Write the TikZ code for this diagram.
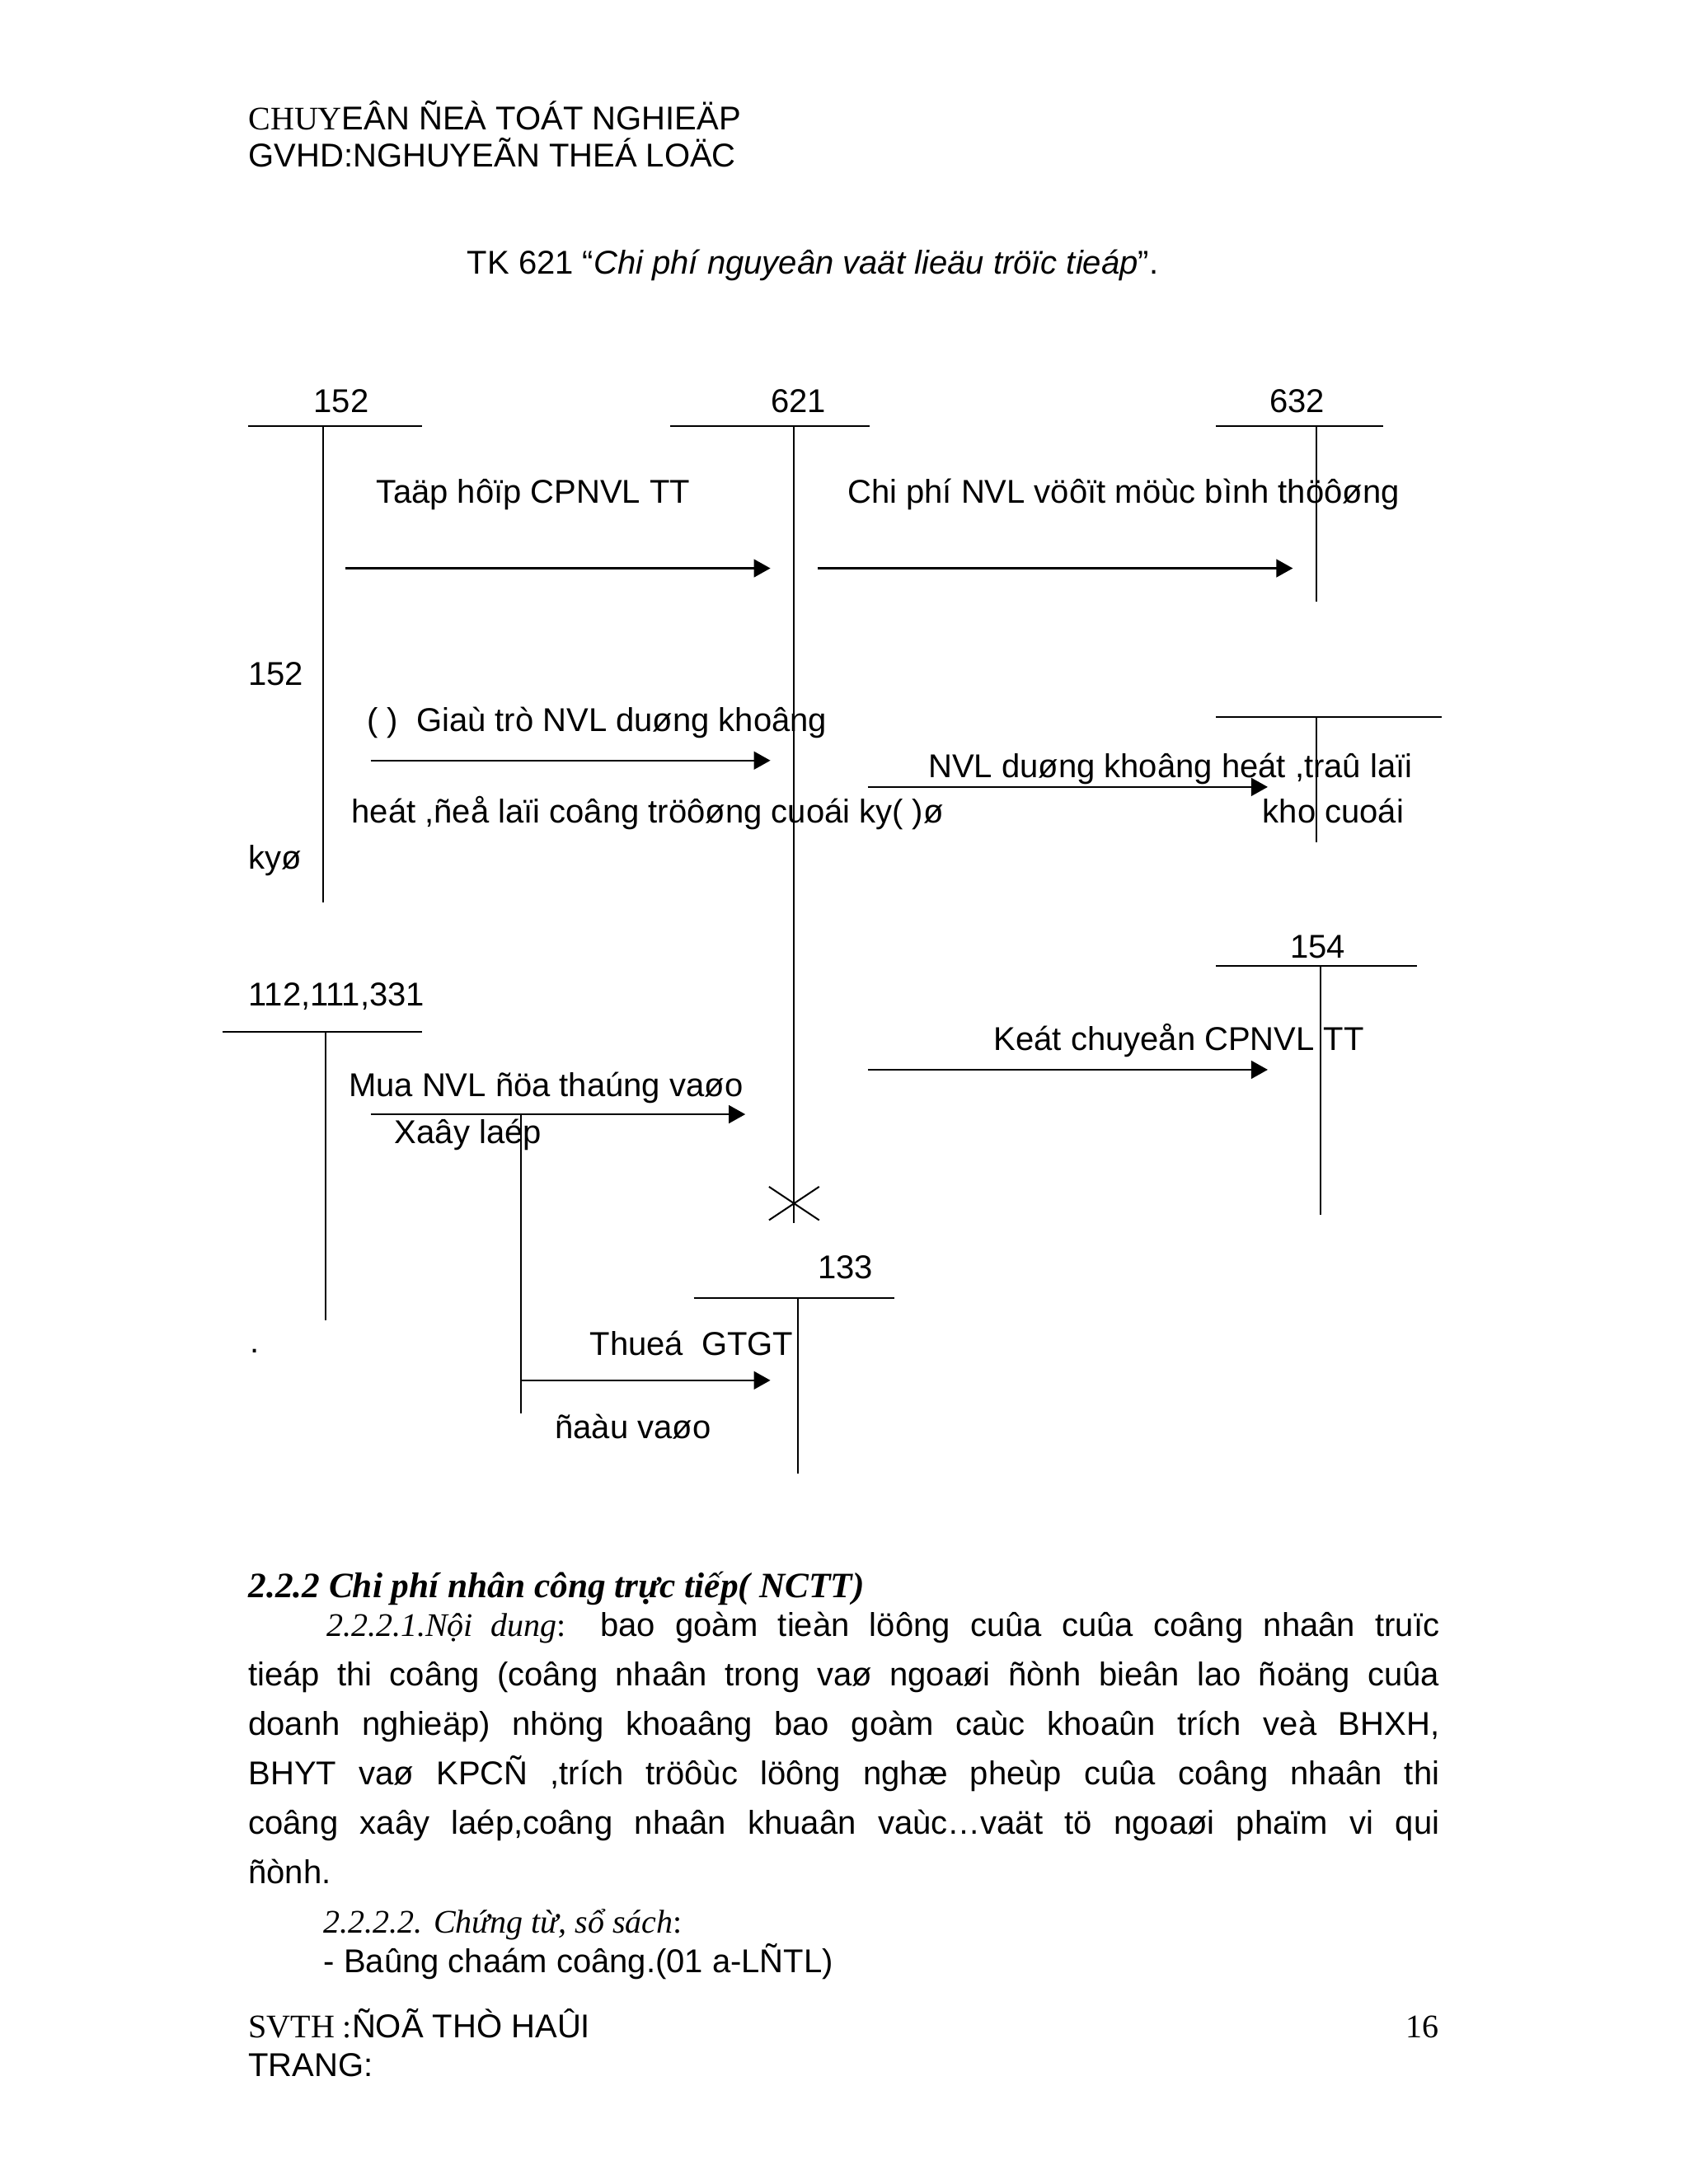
\documentclass[tikz,border=0pt]{standalone}
\usepackage{fontspec}
\setmainfont{Liberation Sans}
\newfontfamily\tnr{Liberation Serif}
\usetikzlibrary{arrows.meta}
\begin{document}
\begin{tikzpicture}[x=0.50693pt,y=-0.50693pt,
  txt/.style={inner sep=0pt, anchor=base west, font=\fontsize{12}{14}\selectfont},
  num/.style={inner sep=0pt, anchor=base, font=\fontsize{12}{14}\selectfont},
  sect/.style={inner sep=0pt, anchor=base west, font=\fontsize{13}{15}\selectfont\tnr\bfseries\itshape},
  tline/.style={line width=0.6pt},
  flow/.style={line width=0.75pt, -{Triangle[length=6pt,width=6.5pt]}},
]
\useasboundingbox (0,0) rectangle (1212,1568);
\fill[white] (0,0) rectangle (1212,1568);

% header
\node[txt] (h1) at (178,93) {{\tnr CHUY}EÂN ÑEÀ TOÁT NGHIEÄP};
\node[txt] (h2) at (178,120) {GVHD:NGHUYEÃN THEÁ LOÄC};
\node[txt] (title) at (335,197) {TK 621 “\textit{Chi phí nguyeân vaät lieäu tröïc tieáp}”.};

% T-account 152 (top)
\node[num] (n152) at (245,296) {152};
\coordinate (a152L) at (178,306); \coordinate (a152R) at (303,306);
\coordinate (a152T) at (232,306); \coordinate (a152B) at (232,648);
\draw[tline] (a152L) -- (a152R); \draw[tline] (a152T) -- (a152B);

% T-account 621
\node[num] (n621) at (573,296) {621};
\coordinate (a621L) at (481,306); \coordinate (a621R) at (624,306);
\coordinate (a621T) at (570,306); \coordinate (a621B) at (570,878);
\draw[tline] (a621L) -- (a621R); \draw[tline] (a621T) -- (a621B);
\coordinate (x1) at (552,852); \coordinate (x2) at (588,876);
\coordinate (x3) at (552,876); \coordinate (x4) at (588,852);
\draw[tline] (x1) -- (x2); \draw[tline] (x3) -- (x4);

% T-account 632
\node[num] (n632) at (931,296) {632};
\coordinate (a632L) at (873,306); \coordinate (a632R) at (993,306);
\coordinate (a632T) at (945,306); \coordinate (a632B) at (945,432);
\draw[tline] (a632L) -- (a632R); \draw[tline] (a632T) -- (a632B);

% second T (kho)
\coordinate (b632L) at (873,515); \coordinate (b632R) at (1035,515);
\coordinate (b632T) at (945,515); \coordinate (b632B) at (945,605);
\draw[tline] (b632L) -- (b632R); \draw[tline] (b632T) -- (b632B);

% T-account 154
\node[num] (n154) at (946,688) {154};
\coordinate (a154L) at (873,693.5); \coordinate (a154R) at (1017,693.5);
\coordinate (a154T) at (948,693.5); \coordinate (a154B) at (948,872);
\draw[tline] (a154L) -- (a154R); \draw[tline] (a154T) -- (a154B);

% T-account 112,111,331
\node[txt] (n112) at (178,722) {112,111,331};
\coordinate (a112L) at (160,741); \coordinate (a112R) at (303,741);
\coordinate (a112T) at (234,741); \coordinate (a112B) at (234,948);
\draw[tline] (a112L) -- (a112R); \draw[tline] (a112T) -- (a112B);

% T-account 133
\node[num] (n133) at (607,918) {133};
\coordinate (a133L) at (498,932); \coordinate (a133R) at (642,932);
\coordinate (a133T) at (573,932); \coordinate (a133B) at (573,1058);
\draw[tline] (a133L) -- (a133R); \draw[tline] (a133T) -- (a133B);

% arrows
\coordinate (f1s) at (248,408); \coordinate (f1e) at (553,408);
\coordinate (f2s) at (587,408); \coordinate (f2e) at (928,408);
\coordinate (f3s) at (266,546); \coordinate (f3e) at (553,546);
\coordinate (f4s) at (623,565); \coordinate (f4e) at (910,565);
\coordinate (f5s) at (623,768); \coordinate (f5e) at (910,768);
\coordinate (f6s) at (266,800); \coordinate (f6e) at (535,800);
\coordinate (vxT) at (374,800); \coordinate (vxB) at (374,1015);
\coordinate (f7s) at (374,991); \coordinate (f7e) at (553,991);
\draw[flow] (f1s) -- (f1e);
\draw[flow] (f2s) -- (f2e);
\draw[flow] (f3s) -- (f3e);
\draw[flow] (f4s) -- (f4e);
\draw[flow] (f5s) -- (f5e);
\draw[flow] (f6s) -- (f6e);
\draw[tline] (vxT) -- (vxB);
\draw[flow] (f7s) -- (f7e);

% labels
\node[txt] (l1) at (270,361) {Taäp hôïp CPNVL TT};
\node[txt] (l2) at (608,361) {Chi phí NVL vöôït möùc bình thöôøng};
\node[txt] (n152b) at (178,492) {152};
\node[txt] (l3) at (263,525) {( )~~Giaù trò NVL duøng khoâng};
\node[txt] (l4) at (666,558) {NVL duøng khoâng heát ,traû laïi};
\node[txt] (l5) at (252,591) {heát ,ñeå laïi coâng tröôøng cuoái ky( )ø};
\node[txt] (l6) at (906,591) {kho cuoái};
\node[txt] (l7) at (178,624) {kyø};
\node[txt] (l8) at (713,754) {Keát chuyeån CPNVL TT};
\node[txt] (l9) at (250,787) {Mua NVL ñöa thaúng vaøo};
\node[txt] (l10) at (283,821) {Xaây laép};
\node[txt] (dot) at (179,971) {.};
\node[txt] (l11) at (423,973) {Thueá~~GTGT};
\node[txt] (l12) at (398,1033) {ñaàu vaøo};

% body text
\node[sect] (sec) at (178,1147) {2.2.2 Chi phí nhân công trực tiếp( NCTT)};
\node[txt] (p1) at (234,1175) {\makebox[405pt][s]{{\tnr\itshape 2.2.2.1.Nội dung}{\tnr :} bao goàm tieàn löông cuûa cuûa coâng nhaân truïc}};
\node[txt] (p2) at (178,1210.5) {\makebox[433.4pt][s]{tieáp thi coâng (coâng nhaân trong vaø ngoaøi ñònh bieân lao ñoäng cuûa}};
\node[txt] (p3) at (178,1246) {\makebox[433.4pt][s]{doanh nghieäp) nhöng khoaâng bao goàm caùc khoaûn trích veà BHXH,}};
\node[txt] (p4) at (178,1281.5) {\makebox[433.4pt][s]{BHYT vaø KPCÑ ,trích tröôùc löông nghæ pheùp cuûa coâng nhaân thi}};
\node[txt] (p5) at (178,1317) {\makebox[433.4pt][s]{coâng xaây laép,coâng nhaân khuaân vaùc…vaät tö ngoaøi phaïm vi qui}};
\node[txt] (p6) at (178,1352.5) {ñònh.};
\node[txt] (s2) at (232,1388) {{\tnr\itshape 2.2.2.2. Chứng từ, sổ sách}{\tnr :}};
\node[txt] (s3) at (232,1416) {- Baûng chaám coâng.(01 a-LÑTL)};

% footer
\node[txt] (f1) at (178,1463) {{\tnr SVTH :}ÑOÃ THÒ HAÛI};
\node[inner sep=0pt, anchor=base east, font=\fontsize{12}{14}\selectfont\tnr] (pg) at (1033,1463) {16};
\node[txt] (f2) at (178,1491) {TRANG:};
\end{tikzpicture}
\end{document}
